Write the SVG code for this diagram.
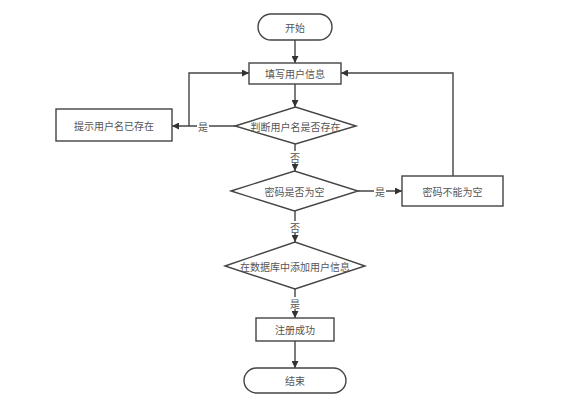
<svg xmlns="http://www.w3.org/2000/svg" width="574" height="403" viewBox="0 0 574 403">
<style>
.n{fill:#fff;stroke:#444;stroke-width:1.4}
.t{font-family:"Noto Sans CJK SC","Noto Sans",sans-serif;font-size:10px;fill:#555;text-anchor:middle;dominant-baseline:central}
.c{fill:none;stroke:#444;stroke-width:1.4;marker-end:url(#a)}
.l{fill:#fff}
</style>
<defs>
<marker id="a" viewBox="0 0 10 10" refX="10" refY="5" markerWidth="7" markerHeight="7" markerUnits="userSpaceOnUse" orient="auto"><path d="M0,0L10,5L0,10z" fill="#333"/></marker>
</defs>
<rect width="574" height="403" fill="#fff"/>
<g id="connectors">
<path class="c" d="M295,40V63"/>
<path class="c" d="M295,84V107"/>
<path class="c" d="M235,126H172"/>
<path class="c" d="M189,126V73H249"/>
<path class="c" d="M295,144V171"/>
<path class="c" d="M358,191H402"/>
<path class="c" d="M453,176V73H341"/>
<path class="c" d="M295,211V242"/>
<path class="c" d="M295,289V318"/>
<path class="c" d="M295,341V368"/>
<rect class="l" x="197" y="120" width="12" height="12"/><text class="t" x="203" y="126">是</text>
<rect class="l" x="289" y="151" width="12" height="12"/><text class="t" x="295" y="157">否</text>
<rect class="l" x="374" y="185" width="12" height="12"/><text class="t" x="380" y="191">是</text>
<rect class="l" x="289" y="221" width="12" height="12"/><text class="t" x="295" y="227">否</text>
<rect class="l" x="289" y="297" width="12" height="12"/><text class="t" x="295" y="303">是</text>
</g>
<g id="start"><rect class="n" x="258" y="14" width="74" height="26" rx="13"/><text class="t" x="295" y="27">开始</text></g>
<g id="fill"><rect class="n" x="249" y="63" width="92" height="21"/><text class="t" x="295" y="73.5">填写用户信息</text></g>
<g id="check-name"><path class="n" d="M235,126L295.5,107L356,126L295.5,144z"/><text class="t" x="295.5" y="126">判断用户名是否存在</text></g>
<g id="name-exists"><rect class="n" x="56" y="109" width="116" height="32"/><text class="t" x="114" y="125">提示用户名已存在</text></g>
<g id="check-pwd"><path class="n" d="M231,191L294.5,171L358,191L294.5,211z"/><text class="t" x="294.5" y="191">密码是否为空</text></g>
<g id="pwd-empty"><rect class="n" x="402" y="176" width="101" height="30"/><text class="t" x="452.5" y="191">密码不能为空</text></g>
<g id="add-db"><path class="n" d="M225,266L295,242L365,266L295,289z"/><text class="t" x="295" y="266">在数据库中添加用户信息</text></g>
<g id="success"><rect class="n" x="256" y="318" width="78" height="23"/><text class="t" x="295" y="329.5">注册成功</text></g>
<g id="end"><rect class="n" x="244" y="368" width="102" height="25" rx="12.5"/><text class="t" x="295" y="380.5">结束</text></g>
</svg>
